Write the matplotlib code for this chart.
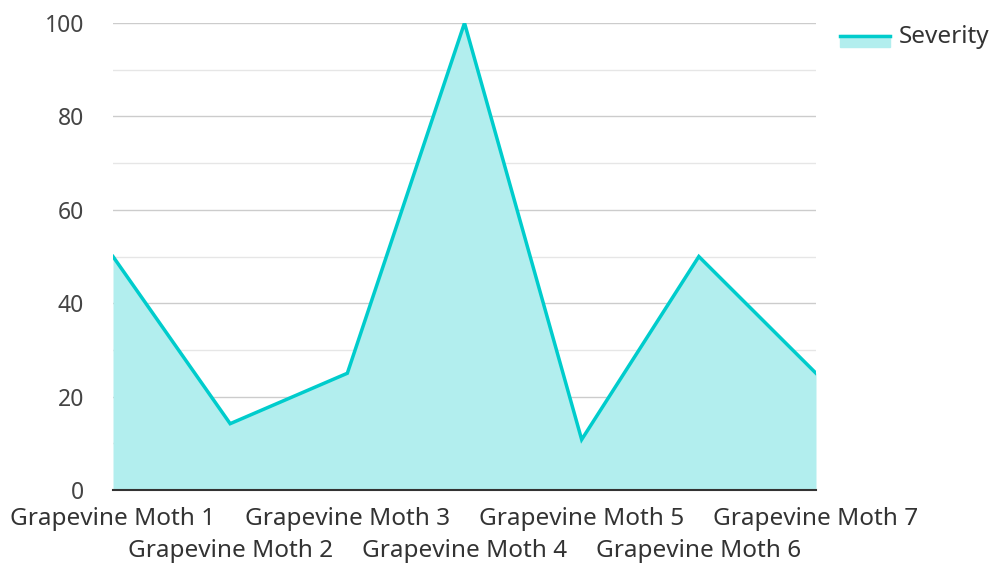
import matplotlib
matplotlib.use('Agg')
from matplotlib import pyplot as plt

categories = ['Grapevine Moth 1', 'Grapevine Moth 2', 'Grapevine Moth 3', 'Grapevine Moth 4',
              'Grapevine Moth 5', 'Grapevine Moth 6', 'Grapevine Moth 7']
severity = [50, 14.2, 25, 100, 10.8, 50, 25]
y_ticks = [0, 20, 40, 60, 80, 100]

plt.rcParams['font.family'] = ['Noto Sans', 'DejaVu Sans']

fig = plt.figure(figsize=(9.94, 5.64), dpi=100)
ax = fig.add_axes([113 / 994, 74 / 564, 703 / 994, 467 / 564])

x = list(range(len(categories)))
ax.fill_between(x, severity, 0, color='#b2eeee', linewidth=0, zorder=2)
ax.plot(x, severity, color='#00cccc', linewidth=2.5, zorder=3, solid_joinstyle='miter')

for v in range(10, 100, 20):
    ax.axhline(v, color='#e6e6e6', linewidth=1, zorder=1)
for v in y_ticks[1:]:
    ax.axhline(v, color='#cccccc', linewidth=1, zorder=1)

ax.set_xlim(0, len(categories) - 1)
ax.set_ylim(0, 100)
ax.set_yticks(y_ticks)
ax.set_yticklabels([str(v) for v in y_ticks], fontsize=16.5, color='#444444')
ax.tick_params(axis='y', length=0, pad=21)

# alternate category labels on two rows
ax.set_xticks(x[0::2])
ax.set_xticklabels(categories[0::2], fontsize=17.5, color='#333333')
ax.tick_params(axis='x', length=0, pad=12.5)
ax2 = ax.secondary_xaxis('bottom')
ax2.set_xticks(x[1::2])
ax2.set_xticklabels(categories[1::2], fontsize=17.5, color='#333333')
ax2.tick_params(axis='x', length=0, pad=35.5)
ax2.spines['bottom'].set_visible(False)

for s in ['top', 'right', 'left']:
    ax.spines[s].set_visible(False)
ax.spines['bottom'].set_color('#333333')
ax.spines['bottom'].set_linewidth(1.5)
ax.spines['bottom'].set_zorder(4)

# legend
fig.patches.append(matplotlib.patches.Rectangle((840 / 994, 1 - 47 / 564), 50 / 994, 12 / 564,
                                                transform=fig.transFigure, color='#b2eeee'))
fig.lines.append(matplotlib.lines.Line2D([840 / 994, 890 / 994], [1 - 36 / 564, 1 - 36 / 564],
                                         transform=fig.transFigure, color='#00cccc', linewidth=2.5))
fig.text(899 / 994, 1 - 37 / 564, 'Severity', fontsize=17.5, color='#333333', va='center', ha='left')

fig.savefig('out.png', dpi=100)
